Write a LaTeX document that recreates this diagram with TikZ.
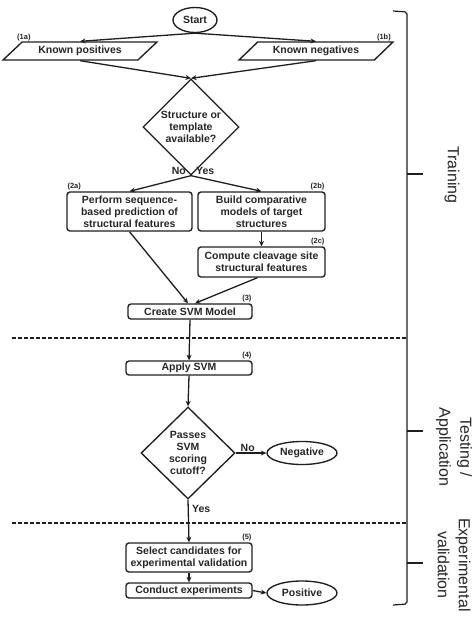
\documentclass[tikz,border=0pt]{standalone}
\usepackage{fontspec}
\setmainfont{Liberation Sans}
\usetikzlibrary{shapes.geometric,arrows.meta}
\definecolor{ink}{HTML}{1E1E1E}
\definecolor{txt}{HTML}{262626}
\begin{document}
\begin{tikzpicture}[x=1pt,y=-1pt,
  every node/.style={text=txt},
  ln/.style={draw=ink, line width=1.35pt},
  bf/.style={font=\fontsize{10.5}{12}\selectfont\bfseries},
  boxn/.style={ln, bf, rounded corners=3pt, align=center, inner sep=1pt},
  para/.style={ln, bf, trapezium, trapezium left angle=40, trapezium right angle=140,
    trapezium stretches=true, minimum width=154pt, minimum height=18pt, inner sep=1pt},
  dia/.style={ln, bf, diamond, aspect=1, align=center, inner sep=0pt},
  ell/.style={ln, bf, ellipse, inner sep=0pt},
  num/.style={font=\fontsize{7.5}{8}\selectfont\bfseries, inner sep=1pt},
  arr/.style={draw=ink, line width=1.3pt, -{Stealth[length=5.5pt,width=5pt]}},
  lab/.style={bf, inner sep=1pt},
  sep/.style={draw=ink, line width=1.4pt, dash pattern=on 4pt off 2pt},
  brc/.style={draw=ink, line width=1.2pt},
  phase/.style={font=\fontsize{16}{21}\selectfont, rotate=-90, align=center}
]
\useasboundingbox (0,0) rectangle (474,619);

% nodes
\node[ell, minimum width=44pt, minimum height=25pt] (start) at (195,20) {Start};
\node[para] (kp) at (80,51) {Known positives};
\node[para] (kn) at (316,51) {Known negatives};
\node[num, anchor=south west] (n1a) at (16,42) {(1a)};
\node[num, anchor=south east] (n1b) at (392,42) {(1b)};

\node[dia, minimum width=96pt, minimum height=96pt] (d1) at (191,127) {Structure or\\template\\available?};

\node[boxn, minimum width=125pt, minimum height=39pt] (b2a) at (129.5,211.5) {Perform sequence-\\based prediction of\\structural features};
\node[boxn, minimum width=127pt, minimum height=39pt] (b2b) at (261.5,211.5) {Build comparative\\models of target\\structures};
\node[boxn, minimum width=127pt, minimum height=30pt] (b2c) at (261.5,262) {Compute cleavage site\\structural features};
\node[num, anchor=south west] (n2a) at (b2a.north west) {(2a)};
\node[num, anchor=south east] (n2b) at (b2b.north east) {(2b)};
\node[num, anchor=south east] (n2c) at (b2c.north east) {(2c)};

\node[boxn, minimum width=124pt, minimum height=15pt] (b3) at (190,311.5) {Create SVM Model};
\node[num, anchor=south east] (n3) at (b3.north east) {(3)};

\node[boxn, minimum width=126pt, minimum height=14pt] (b4) at (189,368) {Apply SVM};
\node[num, anchor=south east] (n4) at (b4.north east) {(4)};

\node[dia, minimum width=94pt, minimum height=92pt] (d2) at (188,453) {Passes\\SVM\\scoring\\cutoff?};
\node[ell, minimum width=70pt, minimum height=23pt] (neg) at (302,453) {Negative};

\node[boxn, minimum width=126pt, minimum height=29pt] (b5) at (189,557.5) {Select candidates for\\experimental validation};
\node[num, anchor=south east] (n5) at (b5.north east) {(5)};
\node[boxn, minimum width=126pt, minimum height=15pt] (b6) at (189,590.5) {Conduct experiments};
\node[ell, minimum width=70pt, minimum height=24pt] (pos) at (302,593) {Positive};

% connectors
\draw[arr] (start.south) -- (kp.north);
\draw[arr] (start.south) -- (kn.north);
\draw[arr] (kp.south) -- (d1.north);
\draw[arr] (kn.south) -- (d1.north);
\draw[arr] (d1.south) -- (b2a.north);
\draw[arr] (d1.south) -- (b2b.north);
\node[lab, anchor=south east] (lno1) at ([xshift=-4pt]d1.south) {No};
\node[lab, anchor=south west] (lyes1) at ([xshift=4pt]d1.south) {Yes};
\draw[arr] (b2b.south) -- (b2c.north);
\draw[arr] (b2a.south) -- ([xshift=-2pt]b3.north);
\draw[arr] ([xshift=-4pt]b2c.south) -- ([xshift=5pt]b3.north);
\draw[arr] (b3.south) -- (b4.north);
\draw[arr] (b4.south) -- (d2.north);
\draw[arr] (d2.east) -- (neg.west);
\node[lab, anchor=south] (lno2) at ([xshift=12pt]d2.east) {No};
\draw[arr] (d2.south) -- (b5.north);
\node[lab, anchor=west] (lyes2) at ([xshift=3pt,yshift=-9pt]d2.south) {Yes};
\draw[arr] (b5.south) -- (b6.north);
\draw[arr] (b6.east) -- (pos.west);

% phase separators
\draw[sep] (12,338) -- (407,338);
\draw[sep] (12,523) -- (407,523);

% bracket
\draw[brc, rounded corners=2pt] (393,11) -- (407,12) -- (407,604) -- (393,605);
\draw[brc] (407,174) -- (423,174);
\draw[brc] (407,431) -- (423,431);
\draw[brc] (407,563) -- (423,563);

\node[phase] (ptrain) at (452,175) {Training};
\node[phase] (ptest) at (454,447) {Testing /\\Application};
\node[phase] (pexp) at (454,565) {Experimental\\validation};
\end{tikzpicture}
\end{document}
